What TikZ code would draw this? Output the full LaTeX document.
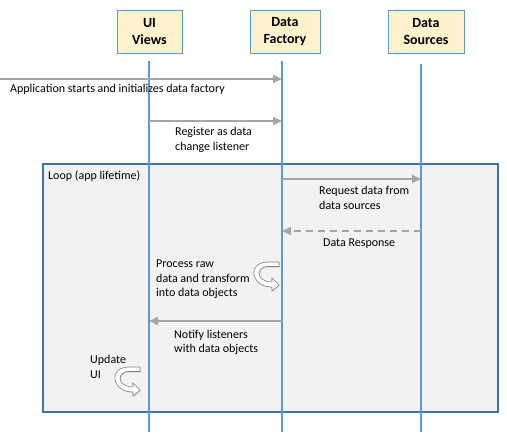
\documentclass[tikz,border=0pt]{standalone}
\usepackage{fontspec}
\setmainfont{Carlito}
\usetikzlibrary{positioning,calc,arrows.meta,backgrounds,shadows}
\definecolor{lifeblue}{HTML}{5B9BD5}
\definecolor{frameblue}{HTML}{41719C}
\definecolor{headfill}{HTML}{FFF2CC}
\definecolor{msggray}{HTML}{A6A6A6}
\definecolor{loopfill}{HTML}{F2F2F2}
\tikzset{
    every node/.style={font=\fontsize{12}{14.5}\selectfont},
    headbox/.style={draw=lifeblue, fill=headfill, thick, align=center, minimum height=43pt, inner sep=2pt,
                    font=\bfseries\fontsize{14}{17}\selectfont, execute at begin node={\rule{0pt}{14pt}}},
    lifeline/.style={draw=lifeblue, line width=1.5pt},
    msg/.style={-{Triangle[length=9pt,width=8pt]}, draw=msggray, line width=2pt},
    reply/.style={msg, dash pattern=on 7pt off 5pt},
    note/.style={align=left, inner sep=0pt, anchor=north west, text=black},
    loopframe/.style={draw=frameblue, fill=loopfill, line width=1.8pt, inner sep=0pt, anchor=north west},
    uturn/.pic={
      \path[draw=gray, line width=0.6pt, fill=white, drop shadow={opacity=0.25, shadow xshift=1pt, shadow yshift=-1pt}]
        (0,0) -- (-11,0) .. controls (-24,0) and (-29,10) .. (-22,19)
        .. controls (-19,23) and (-13,25) .. (-7,25) -- (-7,29) -- (0,23) -- (-7,16) -- (-7,20)
        .. controls (-12,20) and (-17,18) .. (-19,15) .. controls (-22,9) and (-18,4.5) .. (-11,4.5)
        -- (0,4.5) -- cycle;
    },
}
\begin{document}
\begin{tikzpicture}[x=1pt, y=-1pt]
\useasboundingbox (0,0) rectangle (507,439);
% lifeline ends
\def\lifebot{432}

%=========================
% Loop frame
%=========================
\node[loopframe, minimum width=455pt, minimum height=248pt] (loop) at (42,163) {};
\node[note] (loop-label) at (48,171) {Loop (app lifetime)};

% headers and lifelines
\foreach \name/\cx/\w/\lx/\ltop/\text in {ui/149.5/65/149/61/{UI\\Views},
                                          fac/285/70/282/61/{Data\\Factory},
                                          src/426/76/421/64/{Data\\Sources}}{
  \node[headbox, minimum width=\w pt] (\name) at (\cx,31.5) {\text};
  \coordinate (\name-top) at (\lx,\ltop);
  \coordinate (\name-bot) at (\lx,\lifebot);
  \draw[lifeline] (\name-top) -- (\name-bot);
}

% message rows
\foreach \row/\y in {start/79, reg/121, req/179, resp/231, notify/321}{
  \coordinate (\row) at (0,\y);
}

\draw[msg] (start) -- (start -| fac-top);
\draw[msg] (reg -| ui-top) -- (reg -| fac-top);
\draw[msg] (req -| fac-top) -- (req -| src-top);
\draw[reply] (resp -| src-top) -- (resp -| fac-top);
\draw[msg] (notify -| fac-top) -- (notify -| ui-top);

\pic at (279,262) {uturn};
\pic at (140,367) {uturn};

\node[note] (start-label) at (10,84) {Application starts and initializes data factory};
\node[note] (reg-label) at (175,127) {Register as data\\change listener};
\node[note] (req-label) at (319,186) {Request data from\\data sources};
\node[note] (resp-label) at (323,239) {Data Response};
\node[note] (proc-label) at (156,260) {Process raw\\data and transform\\into data objects};
\node[note] (notify-label) at (174,329.5) {Notify listeners\\with data objects};
\node[note] (upd-label) at (90,355) {Update\\UI};

\end{tikzpicture}
\end{document}
